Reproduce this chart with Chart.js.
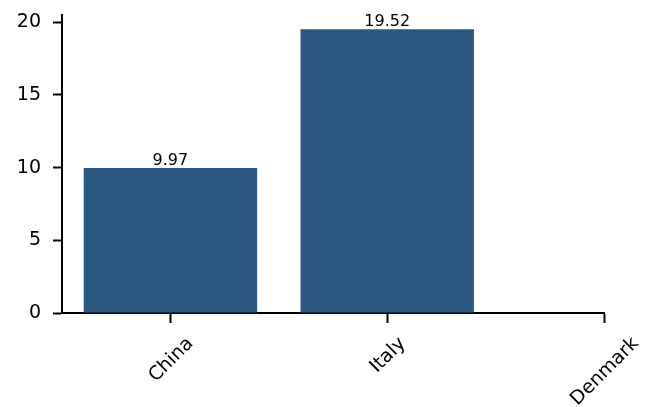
<!DOCTYPE html>
<html>
<head>
<meta charset="utf-8">
<script src="https://cdn.jsdelivr.net/npm/chart.js@4"></script>
<style>
    html, body { margin: 0; padding: 0; background: #fff; }
    #wrap { width: 654px; height: 407px; }
</style>
</head>
<body>
<div id="wrap"><canvas id="chart" width="654" height="407"></canvas></div>
<script>
const categories = ['China', 'Italy', 'Denmark'];
const values = [9.97, 19.52, null];
const valueLabels = ['9.97', '19.52', ''];
const yTicks = [0, 5, 10, 15, 20];

const barColor = '#2c5781';
const fontFamily = '"DejaVu Sans", sans-serif';

// bar values written above each bar
const barLabels = {
    id: 'barLabels',
    afterDatasetsDraw(chart) {
        const ctx = chart.ctx;
        const meta = chart.getDatasetMeta(0);
        ctx.save();
        ctx.fillStyle = '#000';
        ctx.font = '16px ' + fontFamily;
        ctx.textAlign = 'center';
        ctx.textBaseline = 'alphabetic';
        meta.data.forEach((bar, i) => {
            if (values[i] === null) return;
            ctx.fillText(valueLabels[i], bar.x, bar.y - 3);
        });
        ctx.restore();
    }
};

// rotated category labels, box centred under the tick (matplotlib style)
const categoryLabels = {
    id: 'categoryLabels',
    afterDraw(chart) {
        const ctx = chart.ctx;
        const xScale = chart.scales.x;
        const top = chart.chartArea.bottom + 21;
        const size = 19;
        ctx.save();
        ctx.fillStyle = '#000';
        ctx.font = size + 'px ' + fontFamily;
        ctx.textAlign = 'center';
        ctx.textBaseline = 'middle';
        categories.forEach((name, i) => {
            const w = ctx.measureText(name).width;
            const boxH = (w + size * 1.0) * Math.SQRT1_2;
            const x = xScale.getPixelForValue(i);
            ctx.save();
            ctx.translate(x + 1, top + boxH / 2);
            ctx.rotate(-Math.PI / 4);
            ctx.fillText(name, 0, 0);
            ctx.restore();
        });
        ctx.restore();
    }
};

new Chart(document.getElementById('chart'), {
    type: 'bar',
    data: {
        datasets: [{
            data: categories.map((c, i) => ({ x: i, y: values[i] })),
            backgroundColor: barColor,
            borderWidth: 0,
            categoryPercentage: 1,
            barPercentage: 0.8
        }]
    },
    options: {
        responsive: false,
        animation: false,
        layout: { padding: { top: 15, right: 50, left: 0, bottom: 0 } },
        plugins: {
            legend: { display: false },
            tooltip: { enabled: false }
        },
        scales: {
            x: {
                type: 'linear',
                min: -0.5,
                max: 2,
                offset: false,
                afterBuildTicks: axis => { axis.ticks = categories.map((c, i) => ({ value: i })); },
                afterFit: axis => {
                    axis.height = 94;
                    axis.paddingLeft = 0;
                    axis.paddingRight = 0;
                },
                ticks: { display: false },
                grid: {
                    offset: false,
                    drawOnChartArea: false,
                    drawTicks: true,
                    tickLength: 10,
                    tickWidth: 2,
                    tickColor: '#000'
                },
                border: { display: true, color: '#000', width: 2 }
            },
            y: {
                min: 0,
                max: 20.5,
                afterBuildTicks: axis => { axis.ticks = yTicks.map(v => ({ value: v })); },
                afterFit: axis => {
                    axis.width = 62;
                    axis.paddingTop = 0;
                    axis.paddingBottom = 0;
                },
                ticks: {
                    color: '#000',
                    padding: 12,
                    font: { family: fontFamily, size: 19 }
                },
                grid: {
                    drawOnChartArea: false,
                    drawTicks: true,
                    tickLength: 9,
                    tickWidth: 2,
                    tickColor: '#000'
                },
                border: { display: true, color: '#000', width: 2 }
            }
        }
    },
    plugins: [barLabels, categoryLabels]
});
</script>
</body>
</html>
